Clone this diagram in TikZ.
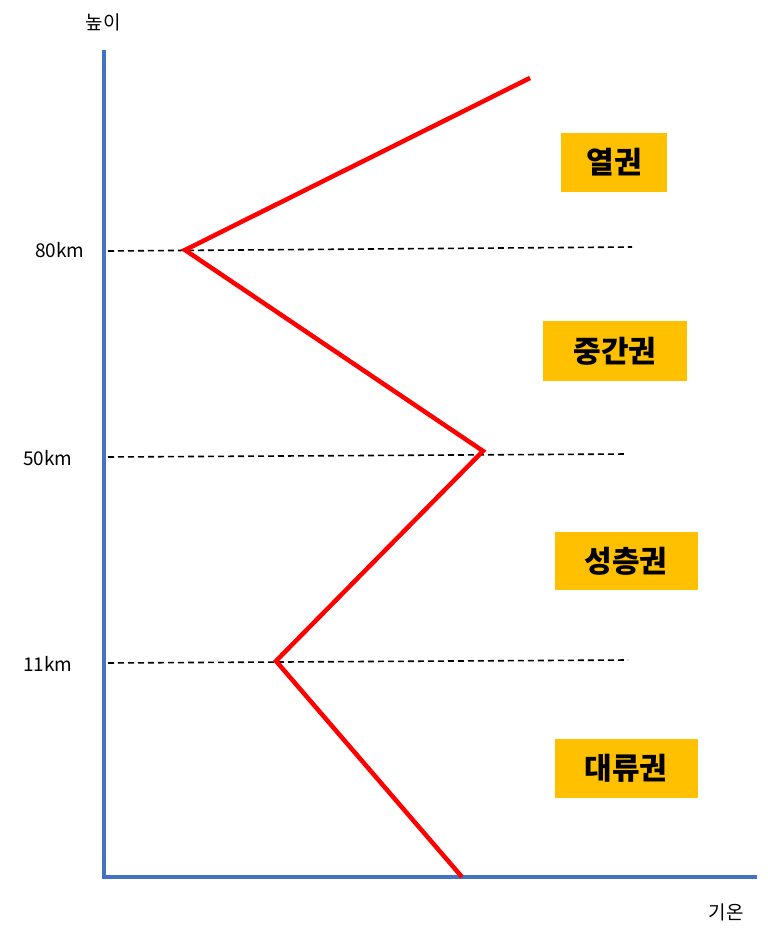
\documentclass[tikz,border=0pt]{standalone}
\usepackage{fontspec}
\setmainfont{Noto Sans CJK KR}
\newfontfamily\kr{Noto Sans CJK KR}
\begin{document}
\begin{tikzpicture}[x=1pt,y=-1pt,
  axis/.style={draw=blue!60!cyan!70!black, line width=3.5pt, color={rgb,255:red,68;green,114;blue,196}},
  curve/.style={draw=red, line width=4.5pt},
  level/.style={draw=black, line width=1.6pt, dash pattern=on 6pt off 4pt},
  zone/.style={fill={rgb,255:red,255;green,192;blue,0}, font=\fontsize{30}{30}\selectfont\bfseries, inner sep=0pt, anchor=center},
  lab/.style={font=\fontsize{19}{19}\selectfont}]
\useasboundingbox (0,0) rectangle (768,943);
\coordinate (top) at (104,50);
\coordinate (org) at (104,877);
\coordinate (right) at (757,877);
\draw[axis] (top) -- (org) -- (right);
\coordinate (p1) at (530,78);
\coordinate (p2) at (185,250);
\coordinate (p3) at (483,451);
\coordinate (p4) at (276,661);
\coordinate (p5) at (462,877);
\draw[level] (108,251) -- (632,247);
\draw[level] (108,457) -- (627,454);
\draw[level] (108,663) -- (628,660);
\draw[curve, line join=miter] (p1) -- (p2) -- (p3) -- (p4) -- (p5);
\node[lab] (l80) at (60,250) {80km};
\node[lab] (l50) at (48,458) {50km};
\node[lab] (l11) at (48,664) {11km};
\node[lab] (yl) at (103,22) {높이};
\node[lab] (xl) at (726,912) {기온};
\node[zone, minimum width=106pt, minimum height=59pt] (z1) at (614,162) {열권};
\node[zone, minimum width=144pt, minimum height=60pt] (z2) at (615,351) {중간권};
\node[zone, minimum width=143pt, minimum height=58pt] (z3) at (626,561) {성층권};
\node[zone, minimum width=143pt, minimum height=59pt] (z4) at (626,768) {대류권};
\end{tikzpicture}
\end{document}
